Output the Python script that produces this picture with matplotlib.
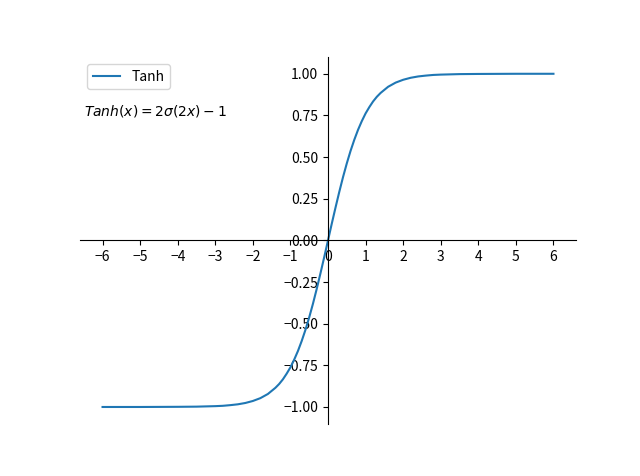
import matplotlib
matplotlib.use('Agg')
import matplotlib.pyplot as plt

plt.rcParams['font.family'] = ['Noto Sans CJK SC', 'DejaVu Sans']
plt.rcParams['axes.unicode_minus'] = True

# curve values
x = [-6.0, -5.0, -4.0, -3.5, -3.0, -2.8, -2.6, -2.4, -2.2, -2.0, -1.8, -1.6,
     -1.4, -1.3, -1.2, -1.1, -1.0, -0.9, -0.8, -0.7, -0.6, -0.5, -0.4, -0.3,
     -0.2, -0.1, 0.0, 0.1, 0.2, 0.3, 0.4, 0.5, 0.6, 0.7, 0.8, 0.9, 1.0,
     1.1, 1.2, 1.3, 1.4, 1.6, 1.8, 2.0, 2.2, 2.4, 2.6, 2.8, 3.0, 3.5, 4.0,
     5.0, 6.0]
y = [-1.000, -1.000, -0.999, -0.998, -0.995, -0.993, -0.989, -0.984, -0.976,
     -0.964, -0.947, -0.922, -0.885, -0.862, -0.834, -0.800, -0.762, -0.716,
     -0.664, -0.604, -0.537, -0.462, -0.380, -0.291, -0.197, -0.100, 0.000,
     0.100, 0.197, 0.291, 0.380, 0.462, 0.537, 0.604, 0.664, 0.716, 0.762,
     0.800, 0.834, 0.862, 0.885, 0.922, 0.947, 0.964, 0.976, 0.984, 0.989,
     0.993, 0.995, 0.998, 0.999, 1.000, 1.000]
xticks = [-6, -5, -4, -3, -2, -1, 0, 1, 2, 3, 4, 5, 6]

fig = plt.figure(figsize=(6.4, 4.76), dpi=100)
ax = plt.gca()
ax.plot(x, y, label='Tanh')

# centred axes
ax.spines['right'].set_color('none')
ax.spines['top'].set_color('none')
ax.spines['bottom'].set_position(('data', 0))
ax.spines['left'].set_position(('data', 0))
ax.set_xticks(xticks)

plt.text(-6.5, 0.75, r'$Tanh(x)=2\sigma(2x)-1$')
plt.legend(loc='upper left')
plt.savefig('out.png')
